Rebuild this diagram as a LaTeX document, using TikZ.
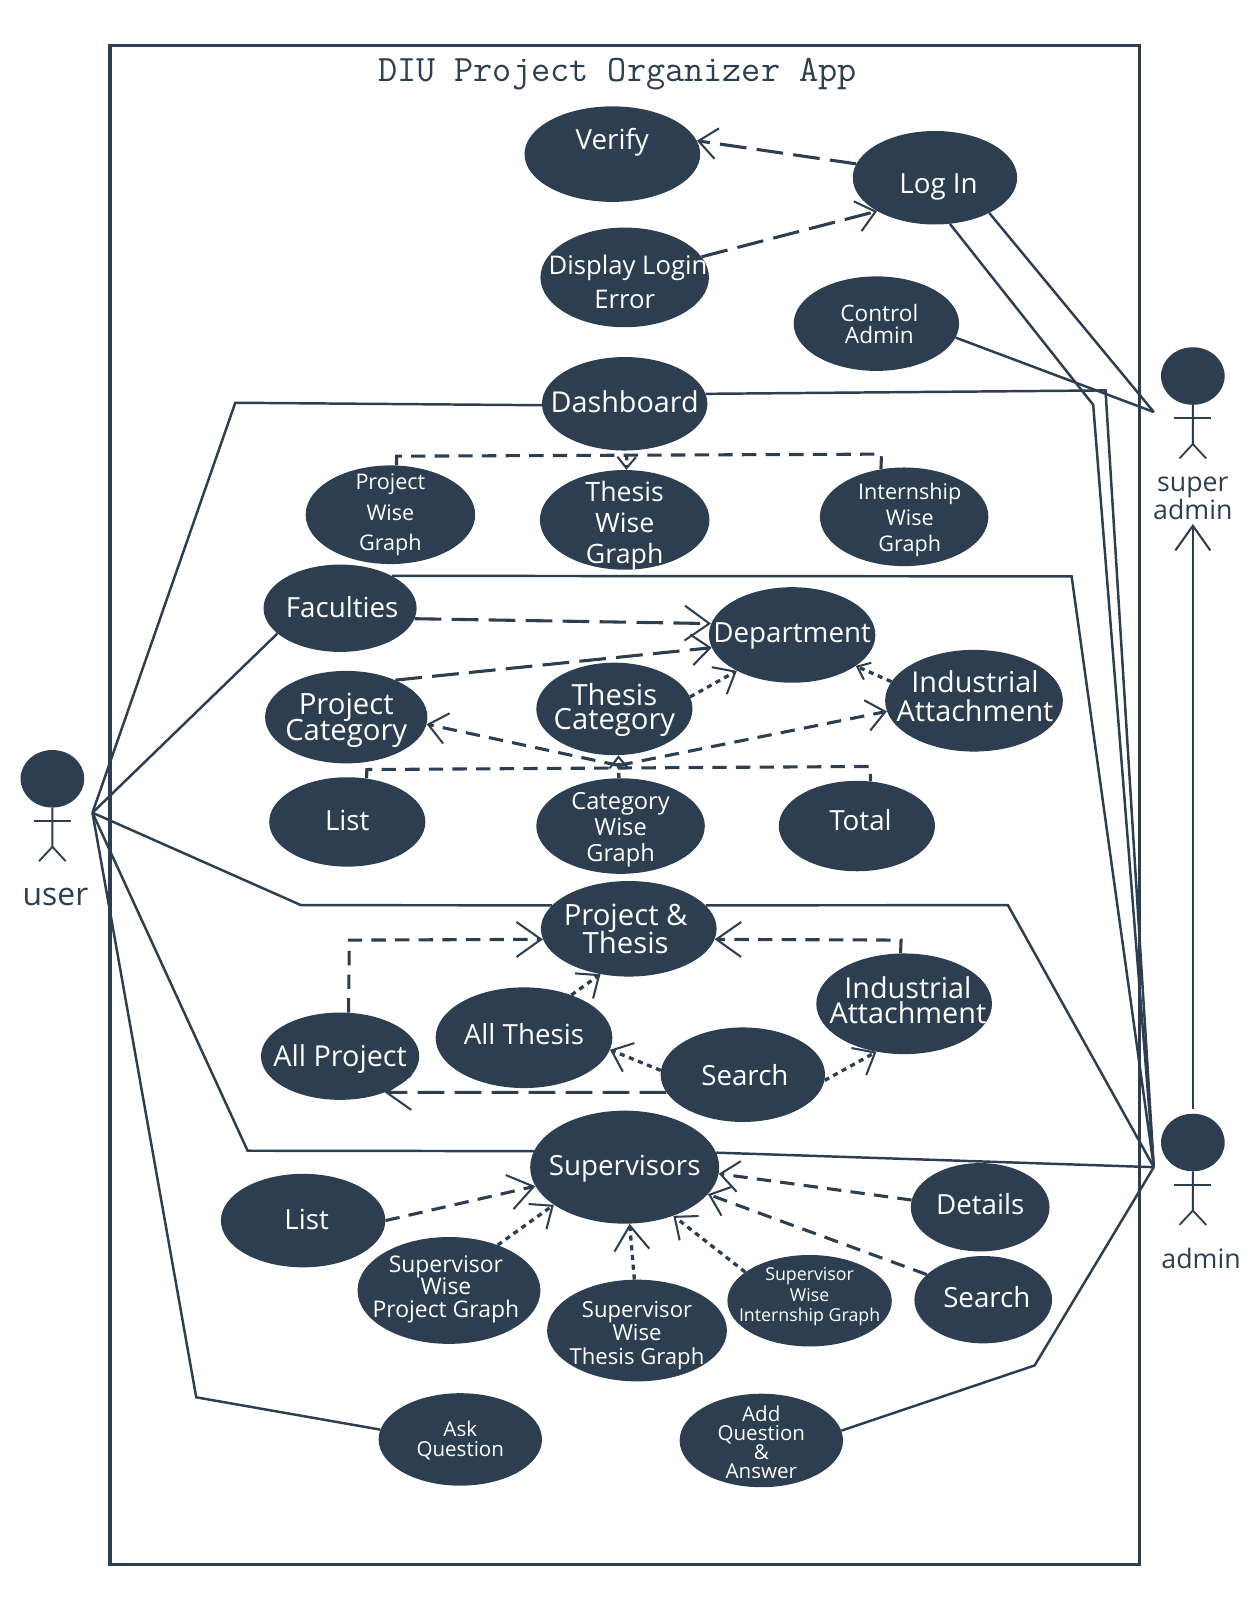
\documentclass[tikz,border=0pt]{standalone}
\usepackage{fontspec}
\setmainfont{Open Sans}
\usetikzlibrary{shapes.geometric,arrows.meta}
\definecolor{slate}{HTML}{2C3E50}
\newcommand{\uc}[2][0]{\smash{\makebox[0pt]{\raisebox{\dimexpr#1pt-0.25em\relax}{\parbox[c]{300pt}{\centering\lineskiplimit=-100pt #2}}}}}
\tikzset{
usecase/.style n args={4}{ellipse,fill=slate,inner sep=0pt,text=white,minimum width=#1pt,minimum height=#2pt,font=\fontsize{#3}{#4}\selectfont},
actorhead/.style={ellipse,fill=slate,inner sep=0pt,minimum width=62pt,minimum height=56pt},
actorname/.style={inner sep=0pt,text=slate,font=\fontsize{#1}{28}\selectfont,align=center},
assoc/.style={draw=slate,line width=2.4pt},
longdep/.style={draw=slate,line width=3pt,dash pattern=on 26pt off 10pt},
middep/.style={draw=slate,line width=3pt,dash pattern=on 14pt off 9pt},
dotdep/.style={draw=slate,line width=3.2pt,dash pattern=on 5pt off 4.5pt},
bigbarb/.style={-{Straight Barb[length=24pt,width=34pt,line width=2pt]}},
midbarb/.style={-{Straight Barb[length=18pt,width=30pt,line width=2pt]}},
tinybarb/.style={-{Straight Barb[length=11pt,width=18pt,line width=2pt]}}
}
\begin{document}
\begin{tikzpicture}[x=1pt,y=-1pt]
\useasboundingbox (0,0) rectangle (1216,1568);
\draw [slate,line width=3.2pt] (107,44) rectangle (1109,1523);
\node [inner sep=0pt,text=slate,font=\fontsize{36.2}{36}\ttfamily\selectfont] (title) at (601,72) {DIU Project Organizer App};

\node [usecase={171}{93}{27}{27}] (verify) at (596,150) {\uc[12]{Verify}};
\node [usecase={160}{91}{27}{27}] (login) at (910,173) {\uc[-8]{\ Log In}};
\node [usecase={164}{97}{25}{33}] (disperr) at (608,270) {\uc[-4]{\ Display Login\\Error}};
\node [usecase={161}{92}{22}{22}] (ctrladmin) at (853,315) {\uc{\ Control\\\ Admin}};
\node [usecase={161}{91}{28}{28}] (dash) at (608,393) {\uc[3]{Dashboard}};
\node [usecase={165}{96}{21}{30}] (pwg) at (380,501) {\uc{Project\\Wise\\Graph}};
\node [usecase={165}{97}{26}{30}] (twg) at (608,506) {\uc[-5]{Thesis\\Wise\\Graph}};
\node [usecase={164}{96}{21}{25}] (iwg) at (880,503) {\uc[-3]{\ \ Internship\\\ \ Wise\\\ \ Graph}};

\node [usecase={149}{85}{27}{27}] (faculties) at (331,592) {\uc[2]{\hspace*{4pt}Faculties}};
\node [usecase={162}{93}{27}{27}] (dept) at (771,618) {\uc{Department}};
\node [usecase={158}{90}{28.5}{26}] (pcat) at (337,698) {\uc[-2]{Project\\Category}};
\node [usecase={152}{90}{28.4}{24}] (tcat) at (598,690) {\uc{Thesis\\Category}};
\node [usecase={173}{99}{28}{28}] (indatt) at (948,682) {\uc[5]{\hspace*{2pt}Industrial\\\hspace*{2pt}Attachment}};
\node [usecase={152}{87}{27}{27}] (catlist) at (338,800) {\uc[2]{List}};
\node [usecase={164}{93}{23}{25}] (catg) at (604,804) {\uc[-4]{Category\\Wise\\Graph}};
\node [usecase={152}{88}{27}{27}] (total) at (834,804) {\uc[6]{\ Total}};

\node [usecase={171}{93}{28.5}{27}] (pt) at (612,904) {\uc[1]{\hspace*{-6pt}Project \&\\\hspace*{-6pt}Thesis}};
\node [usecase={154}{85}{28}{27}] (allproj) at (331,1028) {\uc[-2]{All Project}};
\node [usecase={172}{98}{27}{27}] (allthesis) at (510,1010) {\uc[4]{All Thesis}};
\node [usecase={171}{98}{28}{24}] (indatt2) at (880,977) {\uc[4]{\ Industrial\\\ Attachment}};
\node [usecase={160}{92}{27}{27}] (search) at (723,1046) {\uc{\hspace*{4pt}Search}};

\node [usecase={184}{110}{27}{27}] (superv) at (608,1136) {\uc[-1]{Supervisors}};
\node [usecase={160}{91}{27}{27}] (suplist) at (295,1188) {\uc[2]{\ List}};
\node [usecase={135}{86}{27}{27}] (details) at (954,1175) {\uc[4]{Details}};
\node [usecase={178}{104}{22.3}{22}] (swpg) at (437,1256) {\uc[1.5]{\hspace*{-6pt}Supervisor\\\hspace*{-6pt}Wise\\\hspace*{-6pt}Project Graph}};
\node [usecase={175}{99}{21.5}{23}] (swtg) at (620,1295) {\uc[-4.5]{Supervisor\\Wise\\Thesis Graph}};
\node [usecase={160}{89}{17.3}{20}] (swig) at (788,1266) {\uc[4]{Supervisor\\Wise\\Internship Graph}};
\node [usecase={134}{85}{27}{27}] (search2) at (957,1265) {\uc[3]{\ Search}};
\node [usecase={159}{90}{20}{19}] (askq) at (448,1401) {\uc[-1]{Ask\\Question}};
\node [usecase={159}{91}{20}{18.5}] (addq) at (741,1402) {\uc[-2]{Add\\Question\\\&\\Answer}};

\foreach \actor/\px/\py in {user/51/758,sadmin/1161/366,admin/1161/1112} {
\node [actorhead] (\actor) at (\px,\py) {};
\draw [slate,line width=1.8pt] (\actor.south) -- ++(0,38) -- ++(-13,14);
\draw [slate,line width=1.8pt] (\actor.south) ++(0,38) -- ++(13,14);
\draw [slate,line width=1.8pt] (\actor.south) ++(-18,13) -- ++(36,0);
}
\node [actorname=31] (username) at (54,873) {user};
\node [actorname=26] (sadminname) at (1161,485) {super\\admin};
\node [actorname=26] (adminname) at (1169,1225) {admin};

\coordinate (userpt) at (90,791);
\coordinate (sadminpt) at (1123,401);
\coordinate (adminpt) at (1123,1136);
\coordinate (dashl) at (229,392);
\coordinate (dashr) at (1076,380);
\coordinate (logbend) at (1064,394);
\coordinate (facr) at (1043,561);
\coordinate (ptl) at (293,881);
\coordinate (ptr) at (981,881);
\coordinate (supl) at (241,1120);
\coordinate (askl) at (191,1360);
\coordinate (addr) at (1007,1329);

\draw [assoc] (login.-33) -- (sadminpt);
\draw [assoc] (login.-72) -- (logbend) -- (adminpt);
\draw [assoc] (ctrladmin.-10) -- (sadminpt);
\draw [assoc] (dash.181) -- (dashl) -- (userpt);
\draw [assoc] (dash.7) -- (dashr) -- (adminpt);
\draw [assoc] (faculties.202) -- (userpt);
\draw [assoc] (faculties.32) -- (facr) -- (adminpt);
\draw [assoc] (pt.163) -- (ptl) -- (userpt);
\draw [assoc] (pt.17) -- (ptr) -- (adminpt);
\draw [assoc] (superv.170) -- (supl) -- (userpt);
\draw [assoc] (superv.9) -- (adminpt);
\draw [assoc] (askq.173) -- (askl) -- (userpt);
\draw [assoc] (addq.7) -- (addr) -- (adminpt);
\draw [assoc,bigbarb] (admin.north) ++(0,-4) -- (1161,510);

\draw [longdep,midbarb] (login.170) -- (verify.9);
\draw [longdep,midbarb] (disperr.15) -- (login.210);

\coordinate (dbarl) at (386,444);
\coordinate (dbarm) at (610,443);
\coordinate (dbarr) at (858,442);
\draw [middep] (pwg.83) -- (dbarl) -- (dbarr) -- (iwg.116);
\draw [dotdep,tinybarb] (dbarm) -- (twg.88);

\draw [longdep,bigbarb] (faculties.-8) -- (dept.172);
\draw [longdep,midbarb] (pcat.37) -- (dept.189);
\draw [dotdep,midbarb] (tcat.9) -- (dept.213);
\draw [dotdep,tinybarb] (indatt.167) -- (dept.-26);

\coordinate (cathub) at (602,745);
\coordinate (cbarl) at (357,749);
\coordinate (cbarr) at (847,746);
\draw [middep] (catlist.66) -- (cbarl) -- (cbarr) -- (total.73);
\draw [dotdep,tinybarb] (catg.92) -- (tcat.-85);
\draw [middep,midbarb] (cathub) -- (pcat.-5);
\draw [middep,midbarb] (cathub) -- (indatt.187);

\coordinate (apbend) at (340,915);
\coordinate (iabend) at (877,915);
\draw [middep,bigbarb] (allproj.79) -- (apbend) -- (pt.187);
\draw [dotdep,midbarb] (allthesis.42) -- (pt.238);
\draw [middep,bigbarb] (indatt2.94) -- (iabend) -- (pt.-7);
\draw [dotdep,midbarb] (search.177) -- (allthesis.-8);
\draw [longdep,bigbarb] (search.193) -- (allproj.-39);
\draw [dotdep,midbarb] (search.-4) -- (indatt2.240);

\draw [middep,bigbarb] (suplist.0) -- (superv.192);
\draw [dotdep,midbarb] (swpg.43) -- (superv.208);
\draw [dotdep,bigbarb] (swtg.93) -- (superv.275);
\draw [dotdep,midbarb] (swig.156) -- (superv.-45);
\draw [middep,midbarb] (details.174) -- (superv.-4);
\draw [middep,midbarb] (search2.156) -- (superv.-18);
\end{tikzpicture}
\end{document}
